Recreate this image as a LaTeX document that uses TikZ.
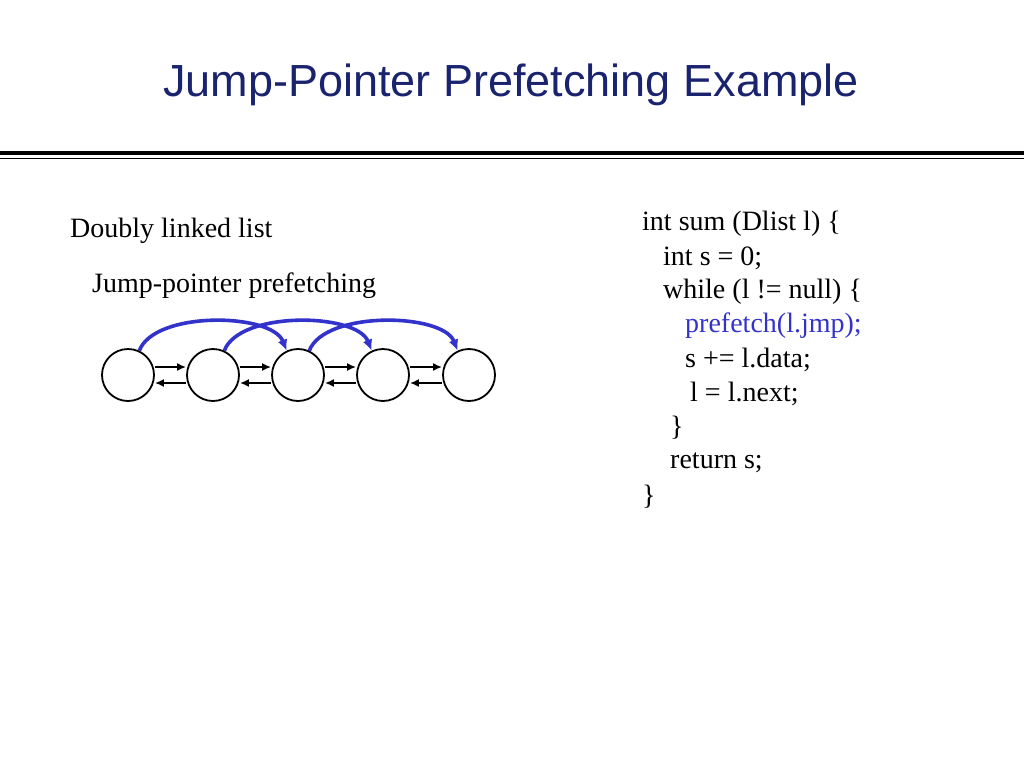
\documentclass[tikz,border=0pt]{standalone}
\usepackage{fontspec}
\setmainfont{Liberation Serif}
\newfontfamily\arial{Liberation Sans}
\usetikzlibrary{arrows.meta}
\definecolor{navy}{RGB}{26,35,110}
\definecolor{jblue}{RGB}{51,51,204}
\begin{document}
\begin{tikzpicture}[x=1pt,y=-1pt,
  cell/.style={draw,circle,minimum size=52pt,inner sep=0pt,line width=1.8pt},
  lnk/.style={-{Latex[length=9pt,width=8pt]},line width=1.8pt},
  jmp/.style={-{Latex[length=11pt,width=10pt]},line width=3.6pt,draw=jblue},
  txt/.style={anchor=west,inner sep=0pt,font=\fontsize{28}{32}\selectfont}]
\useasboundingbox (0,0) rectangle (1024,768);
\node[font=\arial\fontsize{45}{52}\selectfont,text=navy] (title) at (511,85) {Jump-Pointer Prefetching Example};
\draw[line width=3.5pt] (0,153) -- (1024,153);
\draw[line width=1.2pt] (0,158.5) -- (1024,158.5);
\node[txt] (t1) at (70,231) {Doubly linked list};
\node[txt] (t2) at (92,286) {Jump-pointer prefetching};
\foreach \i/\x in {1/128,2/213,3/298,4/383,5/469}{\node[cell] (c\i) at (\x,375) {};}
\foreach \a/\b in {1/2,2/3,3/4,4/5}{
  \draw[lnk] ([yshift=8pt]c\a.east) -- ([yshift=8pt]c\b.west);
  \draw[lnk] ([yshift=-8pt]c\b.west) -- ([yshift=-8pt]c\a.east);}
\foreach \a/\b in {1/3,2/4,3/5}{
  \draw[jmp] (c\a.65) .. controls +(15,-40) and +(-15,-38) .. (c\b.115);}
\foreach \n/\x/\y/\s in {a/642/224/{int sum (Dlist l) \{},b/663/258/{int s = 0;},c/663/292/{while (l != null) \{},
  e/685/360/{s += l.data;},f/690/394/{l = l.next;},g/670/428/{\}},h/670/463/{return s;},i/642/497/{\}}}{
  \node[txt] (code\n) at (\x,\y) {\s};}
\node[txt,text=jblue] (coded) at (685,326) {prefetch(l.jmp);};
\end{tikzpicture}
\end{document}
